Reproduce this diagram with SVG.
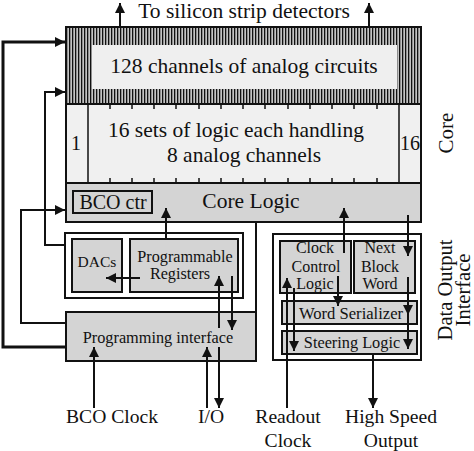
<svg xmlns="http://www.w3.org/2000/svg" width="474" height="451" viewBox="0 0 474 451" font-family="'Liberation Serif', 'DejaVu Serif', serif">
<defs>
<style>
text{font-family:'Liberation Serif','DejaVu Serif',serif;fill:#111;}
.box{stroke:#111;stroke-width:2;}
.g{fill:#d4d4d4;}
.w{fill:#fff;}
.wire{fill:none;stroke:#111;stroke-width:2;}
.thick{fill:none;stroke:#111;stroke-width:3;}
.tick{stroke:#111;stroke-width:1.5;}
</style>
<marker id="ah" viewBox="0 0 10 10" refX="10" refY="5" markerWidth="11" markerHeight="10" markerUnits="userSpaceOnUse" orient="auto">
<path d="M0,0 L10,5 L0,10 z" fill="#111"/>
</marker>
<pattern id="hatch" width="3" height="10" patternUnits="userSpaceOnUse">
<rect width="3" height="10" fill="#c4c4c4"/>
<rect x="0" width="1.3" height="10" fill="#111"/>
</pattern>
</defs>

<g id="title">
<text x="244" y="18" font-size="21.5" text-anchor="middle">To silicon strip detectors</text>
</g>

<g id="analog">
<rect x="66" y="27" width="355" height="77" fill="url(#hatch)" class="box"/>
<rect x="92" y="45" width="305" height="44" fill="#efefef"/>
<text x="244" y="73" font-size="21.5" text-anchor="middle">128 channels of analog circuits</text>
</g>

<g id="logic">
<rect x="66" y="104" width="355" height="79" fill="#f0f0f0" class="box"/>
<line x1="88" y1="104" x2="88" y2="183" class="tick"/>
<line x1="399" y1="104" x2="399" y2="183" class="tick"/>
<path class="tick" d="M110,104v5M132,104v5M154,104v5M176,104v5M199,104v5M221,104v5M243,104v5M265,104v5M288,104v5M310,104v5M332,104v5M354,104v5M377,104v5M110,183v-5M132,183v-5M154,183v-5M176,183v-5M199,183v-5M221,183v-5M243,183v-5M265,183v-5M288,183v-5M310,183v-5M332,183v-5M354,183v-5M377,183v-5"/>
<text x="76" y="150" font-size="20" text-anchor="middle">1</text>
<text x="410" y="150" font-size="20" text-anchor="middle">16</text>
<text x="236" y="137" font-size="21.5" text-anchor="middle">16 sets of logic each handling</text>
<text x="244" y="162" font-size="21.5" text-anchor="middle">8 analog channels</text>
</g>

<g id="corelogic">
<rect x="66" y="183" width="355" height="39" class="box g"/>
<rect x="73" y="191" width="79" height="22" class="box g"/>
<text x="113" y="209" font-size="20" text-anchor="middle">BCO ctr</text>
<text x="251" y="208" font-size="21.5" text-anchor="middle">Core Logic</text>
</g>

<g id="core-label">
<text transform="translate(453,133) rotate(-90)" font-size="21" text-anchor="middle">Core</text>
</g>

<g id="dac-group">
<rect x="65" y="233" width="178" height="65" class="box w"/>
<rect x="72" y="239" width="50" height="53" class="box g"/>
<text x="97" y="267" font-size="15.5" text-anchor="middle">DACs</text>
<rect x="130" y="239" width="108" height="53" class="box g"/>
<text x="185" y="262" font-size="16.2" text-anchor="middle">Programmable</text>
<text x="180" y="279" font-size="16.2" text-anchor="middle">Registers</text>
</g>

<g id="prog-interface">
<rect x="66" y="312" width="190" height="49" class="box g"/>
<text x="158" y="343" font-size="16.3" text-anchor="middle">Programming interface</text>
</g>

<g id="data-output">
<rect x="273" y="234" width="148" height="126" class="box w"/>
<rect x="280" y="241" width="71" height="52" class="box g"/>
<text x="315" y="253" font-size="16" text-anchor="middle">Clock</text>
<text x="316" y="272" font-size="16" text-anchor="middle">Control</text>
<text x="315" y="289" font-size="16" text-anchor="middle">Logic</text>
<rect x="354" y="241" width="61" height="52" class="box g"/>
<text x="380" y="253" font-size="16" text-anchor="middle">Next</text>
<text x="380" y="272" font-size="16" text-anchor="middle">Block</text>
<text x="380" y="289" font-size="16" text-anchor="middle">Word</text>
<rect x="282" y="301" width="135" height="23" class="box g"/>
<text x="351" y="319" font-size="16.6" text-anchor="middle">Word Serializer</text>
<rect x="282" y="331" width="135" height="23" class="box g"/>
<text x="352" y="348" font-size="16.3" text-anchor="middle">Steering Logic</text>
</g>

<g id="doi-label">
<text transform="translate(452,290) rotate(-90)" font-size="20.5" text-anchor="middle">Data Output</text>
<text transform="translate(470,290) rotate(-90)" font-size="20.5" text-anchor="middle">Interface</text>
</g>

<g id="io-labels">
<text x="112" y="423" font-size="19.6" text-anchor="middle">BCO Clock</text>
<text x="211" y="423" font-size="19.6" text-anchor="middle">I/O</text>
<text x="288" y="423" font-size="19.6" text-anchor="middle">Readout</text>
<text x="288" y="447" font-size="19.6" text-anchor="middle">Clock</text>
<text x="391" y="423" font-size="19.6" text-anchor="middle">High Speed</text>
<text x="391" y="447" font-size="19.6" text-anchor="middle">Output</text>
</g>

<g id="connectors">
<path class="wire" d="M120,27 V3" marker-end="url(#ah)"/>
<path class="wire" d="M369,27 V3" marker-end="url(#ah)"/>
<path class="thick" d="M66,347 H3 V42 H65" marker-end="url(#ah)"/>
<path class="wire" d="M65,245 H45 V92 H65" marker-end="url(#ah)"/>
<path class="wire" d="M66,323 H21 V210 H65" marker-end="url(#ah)"/>
<path class="wire" d="M166,239 V208" marker-end="url(#ah)"/>
<path class="wire" d="M256,222 V312"/>
<path class="wire" d="M140,278 H106" marker-end="url(#ah)"/>
<path class="wire" d="M219,328 V276" marker-end="url(#ah)"/>
<path class="wire" d="M232,276 V330" marker-end="url(#ah)"/>
<path class="wire" d="M94,408 V347" marker-end="url(#ah)"/>
<path class="wire" d="M207,408 V347" marker-end="url(#ah)"/>
<path class="wire" d="M219,347 V408" marker-end="url(#ah)"/>
<path class="wire" d="M344,253 V208" marker-end="url(#ah)"/>
<path class="wire" d="M408,215 V256" marker-end="url(#ah)"/>
<path class="wire" d="M338,276 V306" marker-end="url(#ah)"/>
<path class="wire" d="M408,277 V315" marker-end="url(#ah)"/>
<path class="wire" d="M408,315 V349" marker-end="url(#ah)"/>
<path class="wire" d="M287,408 V278" marker-end="url(#ah)"/>
<path class="wire" d="M294,288 V351" marker-end="url(#ah)"/>
<path class="wire" d="M373,354 V408" marker-end="url(#ah)"/>
</g>
</svg>
